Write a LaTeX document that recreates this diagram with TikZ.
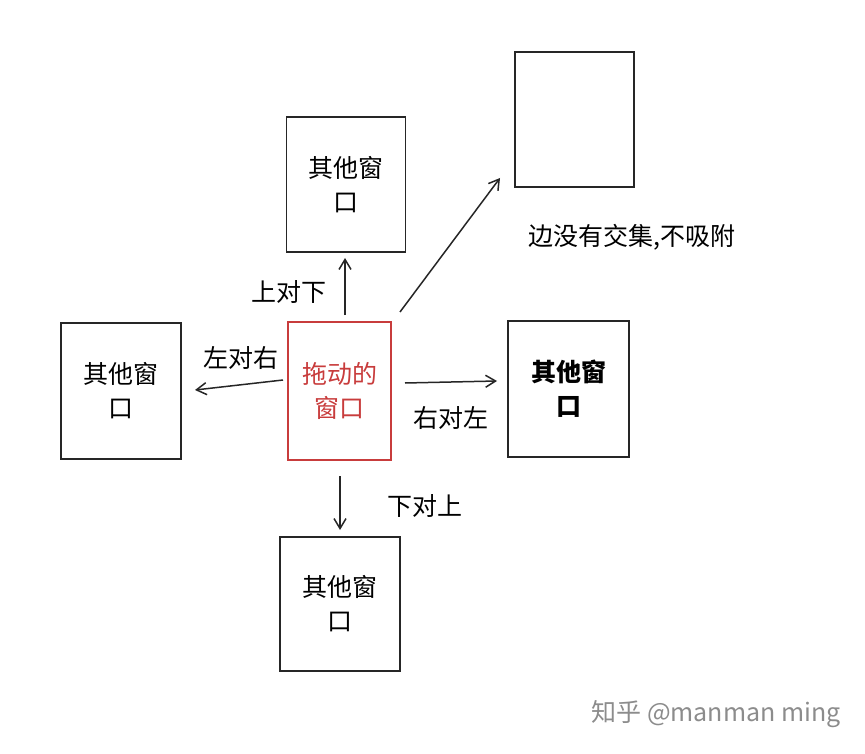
\documentclass[tikz,border=0pt]{standalone}
\usepackage{fontspec}
\setmainfont{Noto Sans CJK SC}
\usetikzlibrary{arrows.meta}
\definecolor{redc}{RGB}{200,60,60}
\begin{document}
\begin{tikzpicture}[x=1pt,y=-1pt,
  arr/.style={-{Straight Barb[length=10pt,width=12pt]},line width=1.5pt,black!85},
  lbl/.style={font=\fontsize{25}{34}\selectfont,align=center}]
\useasboundingbox (0,0) rectangle (865,754);
\node[draw=black!85,line width=1.6pt,minimum width=119pt,minimum height=135pt,lbl] (top) at (346,184.5) {其他窗\\口};
\node[draw=black!85,line width=1.6pt,minimum width=119pt,minimum height=135pt] (tr) at (574.5,119.5) {};
\node[draw=black!85,line width=1.6pt,minimum width=120pt,minimum height=136pt,lbl] (left) at (121,391) {其他窗\\口};
\node[draw=redc,line width=1.6pt,minimum width=103pt,minimum height=138pt,lbl,text=redc] (c) at (339.5,391) {拖动的\\窗口};
\node[draw=black!85,line width=1.6pt,minimum width=121pt,minimum height=136pt,lbl,font=\fontsize{25}{34}\selectfont\bfseries] (right) at (568.5,389) {其他窗\\口};
\node[draw=black!85,line width=1.6pt,minimum width=120pt,minimum height=134pt,lbl] (bot) at (340,604) {其他窗\\口};
\coordinate (u1) at (345,315); \coordinate (u2) at (345,258);
\coordinate (d1) at (400,312); \coordinate (d2) at (500,178);
\coordinate (l1) at (283,380); \coordinate (l2) at (195,390);
\coordinate (r1) at (405,383); \coordinate (r2) at (497,381);
\coordinate (b1) at (340,476); \coordinate (b2) at (340,530);
\draw[arr] (u1) -- (u2);
\draw[arr] (d1) -- (d2);
\draw[arr] (l1) -- (l2);
\draw[arr] (r1) -- (r2);
\draw[arr] (b1) -- (b2);
\node[lbl] (t1) at (289,292) {上对下};
\node[lbl] (t2) at (241,358) {左对右};
\node[lbl] (t3) at (451,418) {右对左};
\node[lbl] (t4) at (425,506) {下对上};
\node[lbl] (t5) at (632,237) {边没有交集,不吸附};
\node[lbl,text=black!45] (wm) at (716,714) {知乎 @manman ming};
\end{tikzpicture}
\end{document}
